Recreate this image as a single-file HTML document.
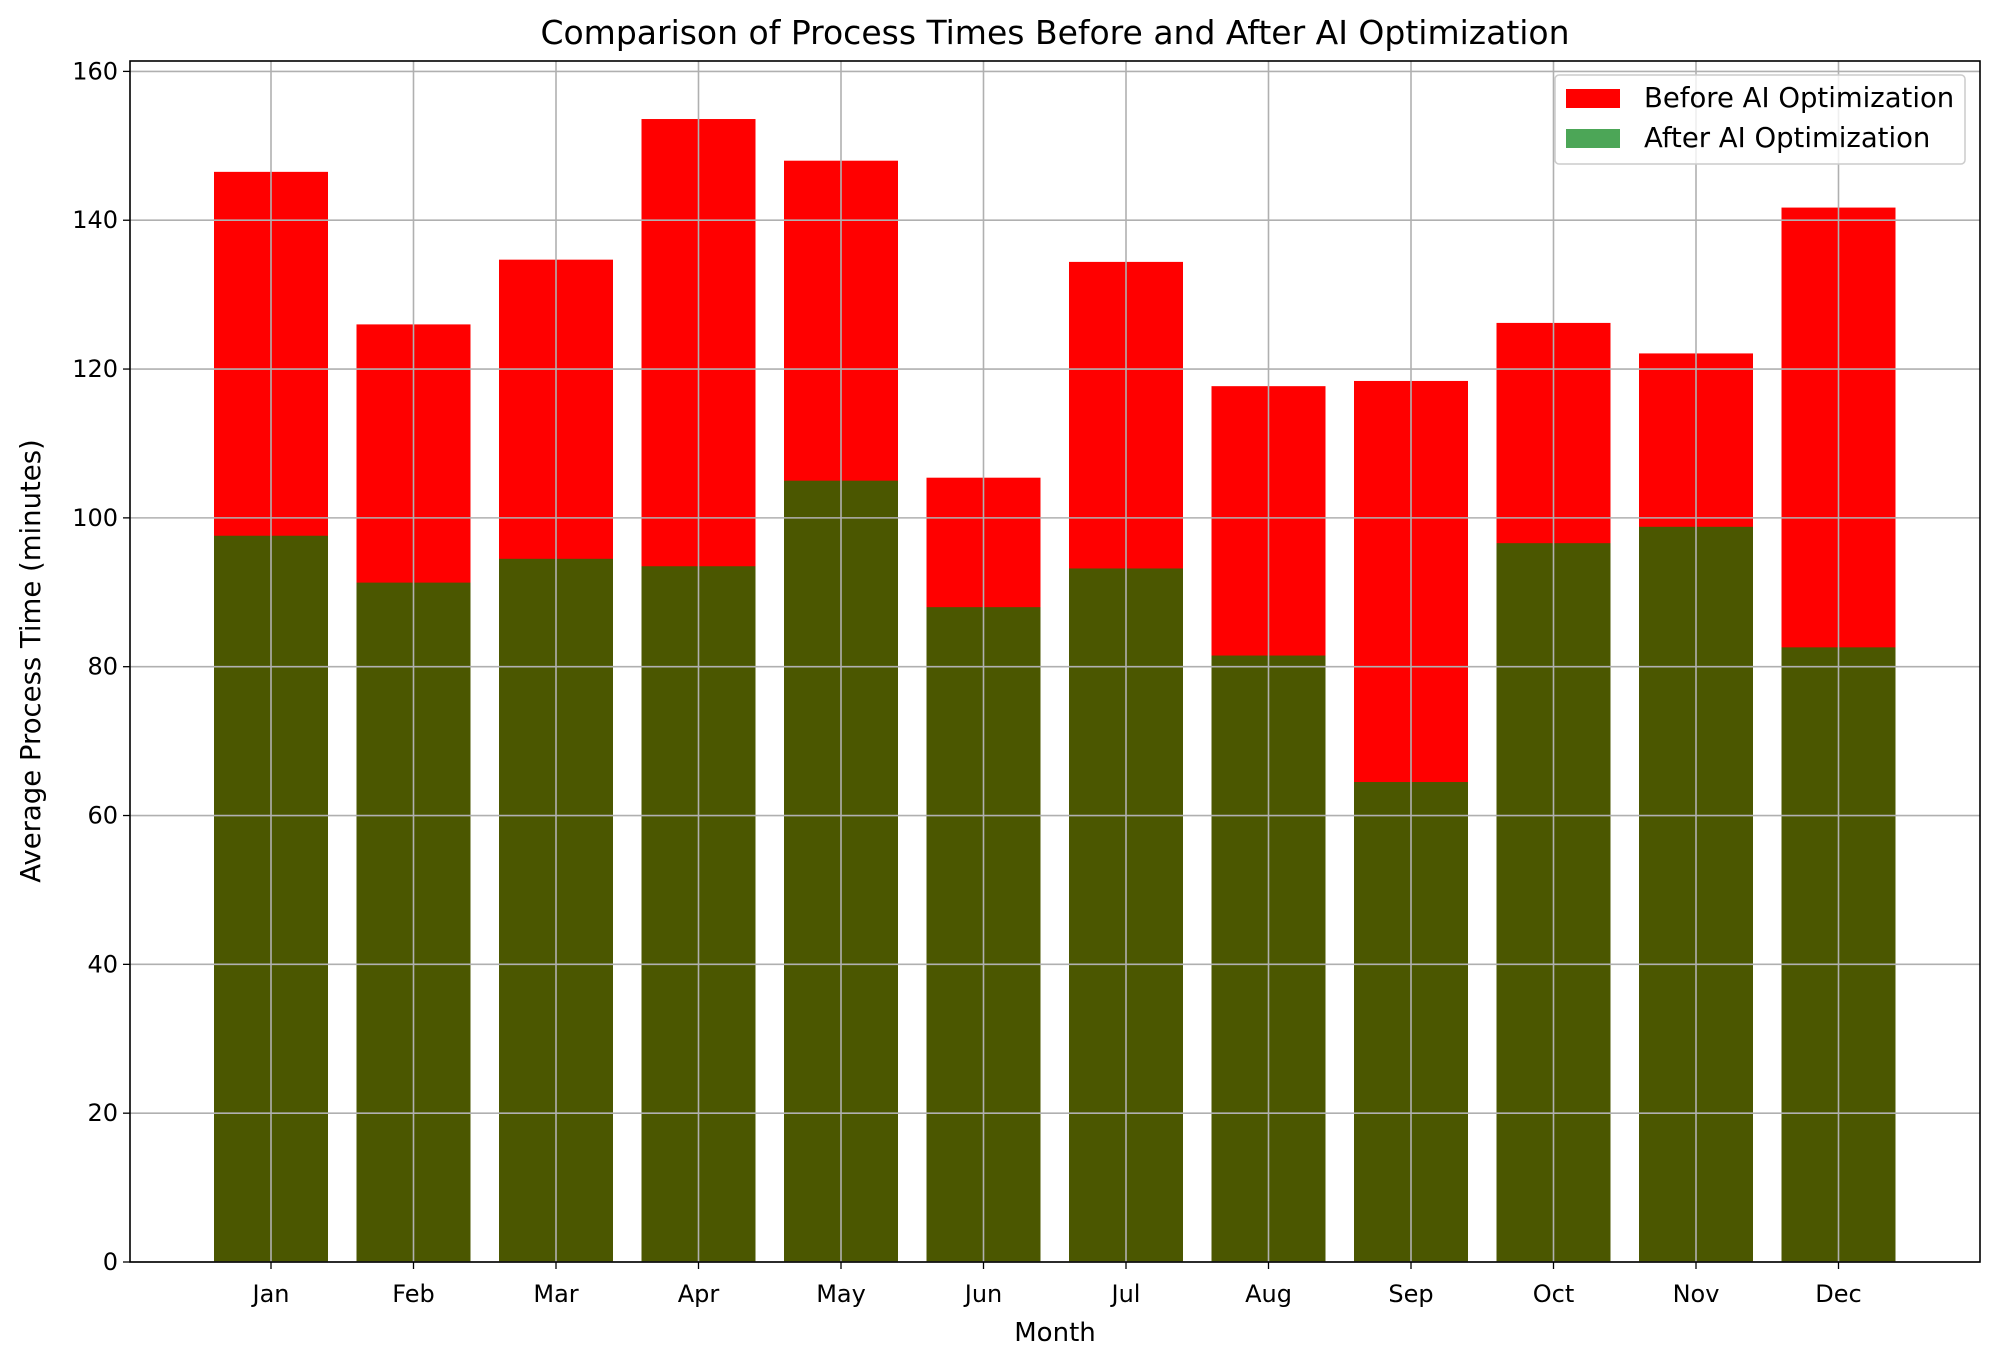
<!DOCTYPE html>
<html><head><meta charset="utf-8"><style>
body{margin:0;background:#fff;font-family:"Liberation Sans","DejaVu Sans",sans-serif;}
svg text{font-family:"DejaVu Sans","Liberation Sans",sans-serif;fill:#000;}
</style></head><body>
<svg id="chart" width="1999" height="1367" viewBox="0 0 1999 1367" xmlns="http://www.w3.org/2000/svg">
<rect width="1999" height="1367" fill="#fff"/>
<g id="bars"></g><g id="grid"></g><g id="axes"></g>
</svg>
<script>
const months=["Jan","Feb","Mar","Apr","May","Jun","Jul","Aug","Sep","Oct","Nov","Dec"];
const beforeVals=[146.5,126,134.7,153.6,148,105.4,134.4,117.7,118.4,126.2,122.1,141.7];
const afterVals=[97.6,91.3,94.5,93.5,105,88,93.2,81.5,64.5,96.6,98.8,82.6];
const yTicks=[0,20,40,60,80,100,120,140,160];
const L=130,R=1980,T=61,B=1262;
const y=v=>B-(v/160)*(B-71.4);
const x=i=>271+i*142.5;
const bw=114;
const NS="http://www.w3.org/2000/svg";
function mk(tag,attrs,parent,txt){const e=document.createElementNS(NS,tag);for(const k in attrs)e.setAttribute(k,attrs[k]);if(txt!==undefined)e.textContent=txt;parent.appendChild(e);return e;}
const bars=document.getElementById('bars'),grid=document.getElementById('grid'),axes=document.getElementById('axes');
months.forEach((m,i)=>{
 const b=mk('rect',{x:x(i)-bw/2,y:y(beforeVals[i]),width:bw,height:B-y(beforeVals[i]),fill:'#ff0000'},bars);
 
 
 const a=mk('rect',{x:x(i)-bw/2,y:y(afterVals[i]),width:bw,height:B-y(afterVals[i]),fill:'#4b5700'},bars);
 
 
 const g=mk('line',{x1:x(i),x2:x(i),y1:T,y2:B,stroke:'#b0b0b0','stroke-width':1.6},grid);
 
 
 mk('line',{x1:x(i),x2:x(i),y1:B,y2:B+7,stroke:'#000','stroke-width':1.3},axes);
 const t=mk('text',{x:x(i),y:B+40,'text-anchor':'middle','font-size':24},axes,m);
 
 
});
yTicks.forEach(v=>{
 const g=mk('line',{x1:L,x2:R,y1:y(v),y2:y(v),stroke:'#b0b0b0','stroke-width':1.6},grid);
 
 
 mk('line',{x1:L-7,x2:L,y1:y(v),y2:y(v),stroke:'#000','stroke-width':1.3},axes);
 const t=mk('text',{x:L-12,y:y(v)+8,'text-anchor':'end','font-size':24},axes,String(v));
 
 
});
const fr=mk('rect',{x:L,y:T,width:R-L,height:B-T,fill:'none',stroke:'#000','stroke-width':1.6},axes);


</script>
<svg style="position:absolute;left:0;top:0" width="1999" height="1367">
<text x="1055" y="44" text-anchor="middle" font-size="33">Comparison of Process Times Before and After AI Optimization</text>
<text x="1055" y="1341" text-anchor="middle" font-size="26">Month</text>
<text transform="translate(40,661) rotate(-90)" text-anchor="middle" font-size="27.5">Average Process Time (minutes)</text>
<g>
<rect x="1555" y="75" width="410" height="89" rx="4" fill="#fff" fill-opacity="0.8" stroke="#ccc" stroke-width="1.5"/>
<rect x="1566" y="89" width="54" height="19" fill="#ff0000"/>
<text x="1644" y="107" font-size="27.5">Before AI Optimization</text>
<rect x="1566" y="129" width="54" height="19" fill="#00800f" fill-opacity="0.7"/>
<text x="1644" y="147" font-size="27.5">After AI Optimization</text>
</g>
</svg>
</body></html>
